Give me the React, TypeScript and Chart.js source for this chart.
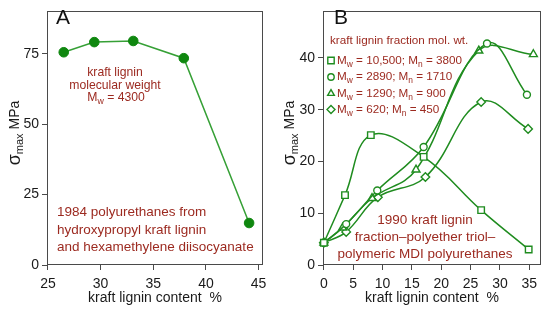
import React, { useEffect, useRef } from 'react';
import { Chart, registerables } from 'chart.js';
Chart.register(...registerables);

// ---------- Panel A data ----------
const aContent = [26.5, 29.4, 33.1, 37.9, 44.1];
const aStrength = [75.5, 79.1, 79.5, 73.4, 14.9];
const aXTicks = [25, 30, 35, 40, 45];
const aYTicks = [0, 25, 50, 75];

// ---------- Panel B data ----------
const bXTicks = [0, 5, 10, 15, 20, 25, 30, 35];
const bYTicks = [0, 10, 20, 30, 40];
const sqContent = [0, 3.6, 8.0, 17.0, 26.8, 34.9];
const sqStrength = [4.3, 13.5, 25.1, 20.9, 10.6, 3.0];
const ciContent = [0, 3.8, 9.1, 17.0, 27.8, 34.6];
const ciStrength = [4.3, 7.9, 14.4, 22.8, 42.8, 32.9];
const trContent = [0, 3.2, 8.2, 15.7, 26.4, 35.7];
const trStrength = [4.3, 7.2, 12.9, 18.4, 41.4, 40.7];
const diContent = [0, 3.8, 9.2, 17.3, 26.8, 34.8];
const diStrength = [4.3, 6.4, 13.1, 17.0, 31.5, 26.3];
const legendMw = ['10,500', '2890', '1290', '620'];
const legendMn = ['3800', '1710', '900', '450'];
const seriesStyles = ['rect', 'circle', 'triangle', 'rectRot'];

const FONT = '"Liberation Sans", Arial, sans-serif';
const RED = '#9c2a20';
const AXIS = '#4a4a4a';
const GREEN = '#1f8c1f';
const TICK = '#1a1a1a';

type Run = { t: string; size?: number; dy?: number };

function drawRuns(ctx: CanvasRenderingContext2D, runs: Run[], x: number, y: number, size: number, align: 'left' | 'center', color: string) {
  ctx.save();
  ctx.fillStyle = color;
  ctx.textBaseline = 'middle';
  ctx.textAlign = 'left';
  const widths = runs.map((r) => {
    ctx.font = `${r.size ?? size}px ${FONT}`;
    return ctx.measureText(r.t).width;
  });
  const total = widths.reduce((a, b) => a + b, 0);
  let cx = align === 'center' ? x - total / 2 : x;
  runs.forEach((r, i) => {
    ctx.font = `${r.size ?? size}px ${FONT}`;
    ctx.fillText(r.t, cx, y + (r.dy ?? 0));
    cx += widths[i];
  });
  ctx.restore();
}

function sub(t: string, size: number): Run {
  return { t, size: size * 0.72, dy: size * 0.32 };
}

function drawYTitle(ctx: CanvasRenderingContext2D, x: number, y: number) {
  ctx.save();
  ctx.translate(x, y);
  ctx.rotate(-Math.PI / 2);
  drawRuns(ctx, [{ t: 'σ', size: 18 }, { t: 'max', size: 11, dy: 5 }, { t: ' MPa', size: 14 }], 0, 0, 14, 'center', TICK);
  ctx.restore();
}

function drawBox(chart: any) {
  const ctx = chart.ctx as CanvasRenderingContext2D;
  const { left, right, top, bottom } = chart.chartArea;
  ctx.save();
  ctx.strokeStyle = AXIS;
  ctx.lineWidth = 1;
  const L = Math.round(left) + 0.5;
  const R = Math.round(right) - 0.5;
  const T = Math.round(top) + 0.5;
  const B = Math.round(bottom) - 0.5;
  ctx.strokeRect(L, T, R - L, B - T);
  ctx.restore();
}

function drawMarker(ctx: CanvasRenderingContext2D, style: string, x: number, y: number, r: number) {
  ctx.beginPath();
  if (style === 'rect') {
    ctx.rect(x - r, y - r, 2 * r, 2 * r);
  } else if (style === 'circle') {
    ctx.arc(x, y, r, 0, Math.PI * 2);
  } else if (style === 'triangle') {
    const rr = r * 1.2;
    ctx.moveTo(x, y - rr);
    ctx.lineTo(x + rr * 0.866, y + rr * 0.5);
    ctx.lineTo(x - rr * 0.866, y + rr * 0.5);
    ctx.closePath();
  } else {
    const rr = r * 1.25;
    ctx.moveTo(x, y - rr);
    ctx.lineTo(x + rr, y);
    ctx.lineTo(x, y + rr);
    ctx.lineTo(x - rr, y);
    ctx.closePath();
  }
  ctx.fillStyle = '#fff';
  ctx.fill();
  ctx.strokeStyle = GREEN;
  ctx.lineWidth = 1.4;
  ctx.stroke();
}

function axis(min: number, max: number, ticks: number[], isX: boolean, size: number) {
  return {
    type: 'linear' as const,
    min,
    max,
    afterBuildTicks: (s: any) => {
      s.ticks = ticks.map((v) => ({ value: v }));
    },
    afterFit: (s: any) => {
      if (isX) s.height = size;
      else s.width = size;
    },
    grid: { display: true, drawOnChartArea: false, drawTicks: true, tickLength: 5, color: AXIS, lineWidth: 1 },
    border: { display: false },
    ticks: { font: { family: FONT, size: 14 }, color: TICK, padding: isX ? 6 : 3, maxRotation: 0, autoSkip: false },
  };
}

function xTitle(chart: any, text: string) {
  const { left, right } = chart.chartArea;
  drawRuns(chart.ctx, [{ t: text }], (left + right) / 2, 298, 14, 'center', TICK);
}

export default function App() {
  const refA = useRef<HTMLCanvasElement>(null);
  const refB = useRef<HTMLCanvasElement>(null);

  useEffect(() => {
    document.body.style.margin = '0';
    const chartA = new Chart(refA.current!, {
      type: 'line',
      data: {
        datasets: [
          {
            data: aContent.map((x, i) => ({ x, y: aStrength[i] })),
            borderColor: '#36a036',
            borderWidth: 1.5,
            pointRadius: 4.8,
            pointBackgroundColor: '#0f870f',
            pointBorderColor: '#0f870f',
            pointBorderWidth: 1,
            tension: 0,
            clip: false as any,
          },
        ],
      },
      options: {
        responsive: false,
        animation: false,
        devicePixelRatio: 1,
        layout: { padding: { top: 4, right: 12, left: 0, bottom: 0 } },
        plugins: { legend: { display: false }, tooltip: { enabled: false } },
        scales: {
          x: axis(24.91, 45.42, aXTicks, true, 47),
          y: axis(0, 90, aYTicks, false, 47),
        },
      },
      plugins: [
        {
          id: 'decorA',
          beforeDatasetsDraw: (chart: any) => drawBox(chart),
          afterDraw: (chart: any) => {
            const ctx = chart.ctx as CanvasRenderingContext2D;
            drawRuns(ctx, [{ t: 'A' }], 56, 18, 21, 'left', '#111');
            drawRuns(ctx, [{ t: 'kraft lignin' }], 115, 73, 12.2, 'center', RED);
            drawRuns(ctx, [{ t: 'molecular weight' }], 115, 85.5, 12.2, 'center', RED);
            drawRuns(ctx, [{ t: 'M' }, sub('w', 12.2), { t: ' = 4300' }], 116, 98, 12.2, 'center', RED);
            drawRuns(ctx, [{ t: '1984 polyurethanes from' }], 57, 212, 13.5, 'left', RED);
            drawRuns(ctx, [{ t: 'hydroxypropyl kraft lignin' }], 57, 230, 13.5, 'left', RED);
            drawRuns(ctx, [{ t: 'and hexamethylene diisocyanate' }], 57, 247.5, 13.5, 'left', RED);
            drawYTitle(ctx, 15, 133);
            xTitle(chart, 'kraft lignin content  %');
          },
        },
      ],
    } as any);

    const series = [
      [sqContent, sqStrength, 4.6],
      [ciContent, ciStrength, 3.5],
      [trContent, trStrength, 4.6],
      [diContent, diStrength, 4.3],
    ] as [number[], number[], number][];

    const chartB = new Chart(refB.current!, {
      type: 'line',
      data: {
        datasets: series.map(([xs, ys, r], k) => ({
          data: xs.map((x, i) => ({ x, y: ys[i] })),
          borderColor: GREEN,
          borderWidth: 1.5,
          pointStyle: seriesStyles[k],
          pointRadius: r,
          pointBackgroundColor: '#fff',
          pointBorderColor: GREEN,
          pointBorderWidth: 1.4,
          tension: 0.4,
          clip: false as any,
        })),
      },
      options: {
        responsive: false,
        animation: false,
        devicePixelRatio: 1,
        layout: { padding: { top: 4, right: 9, left: 0, bottom: 0 } },
        plugins: { legend: { display: false }, tooltip: { enabled: false } },
        scales: {
          x: axis(-0.15, 37, bXTicks, true, 47),
          y: axis(0, 49, bYTicks, false, 48),
        },
      },
      plugins: [
        {
          id: 'decorB',
          beforeDatasetsDraw: (chart: any) => drawBox(chart),
          afterDraw: (chart: any) => {
            const ctx = chart.ctx as CanvasRenderingContext2D;
            drawRuns(ctx, [{ t: 'B' }], 59, 18, 21, 'left', '#111');
            drawRuns(ctx, [{ t: 'kraft lignin fraction mol. wt.' }], 55, 41, 11.7, 'left', RED);
            const ys = [60.5, 77, 93.5, 109.5];
            legendMw.forEach((mw, i) => {
              ctx.save();
              drawMarker(ctx, seriesStyles[i], 56, ys[i], 3.2);
              ctx.restore();
              drawRuns(ctx, [{ t: 'M' }, sub('w', 11.7), { t: ` = ${mw}; M` }, sub('n', 11.7), { t: ` = ${legendMn[i]}` }], 62, ys[i], 11.7, 'left', RED);
            });
            drawRuns(ctx, [{ t: '1990 kraft lignin' }], 150, 220, 13.5, 'center', RED);
            drawRuns(ctx, [{ t: 'fraction–polyether triol–' }], 150, 237.5, 13.5, 'center', RED);
            drawRuns(ctx, [{ t: 'polymeric MDI polyurethanes' }], 150, 254, 13.5, 'center', RED);
            drawYTitle(ctx, 15, 133);
            xTitle(chart, 'kraft lignin content  %');
          },
        },
      ],
    } as any);

    return () => {
      chartA.destroy();
      chartB.destroy();
    };
  }, []);

  return (
    <div style={{ position: 'relative', width: 550, height: 312, background: '#fff' }}>
      <canvas ref={refA} width={275} height={312} style={{ position: 'absolute', left: 0, top: 0, width: 275, height: 312 }} />
      <canvas ref={refB} width={275} height={312} style={{ position: 'absolute', left: 275, top: 0, width: 275, height: 312 }} />
    </div>
  );
}
